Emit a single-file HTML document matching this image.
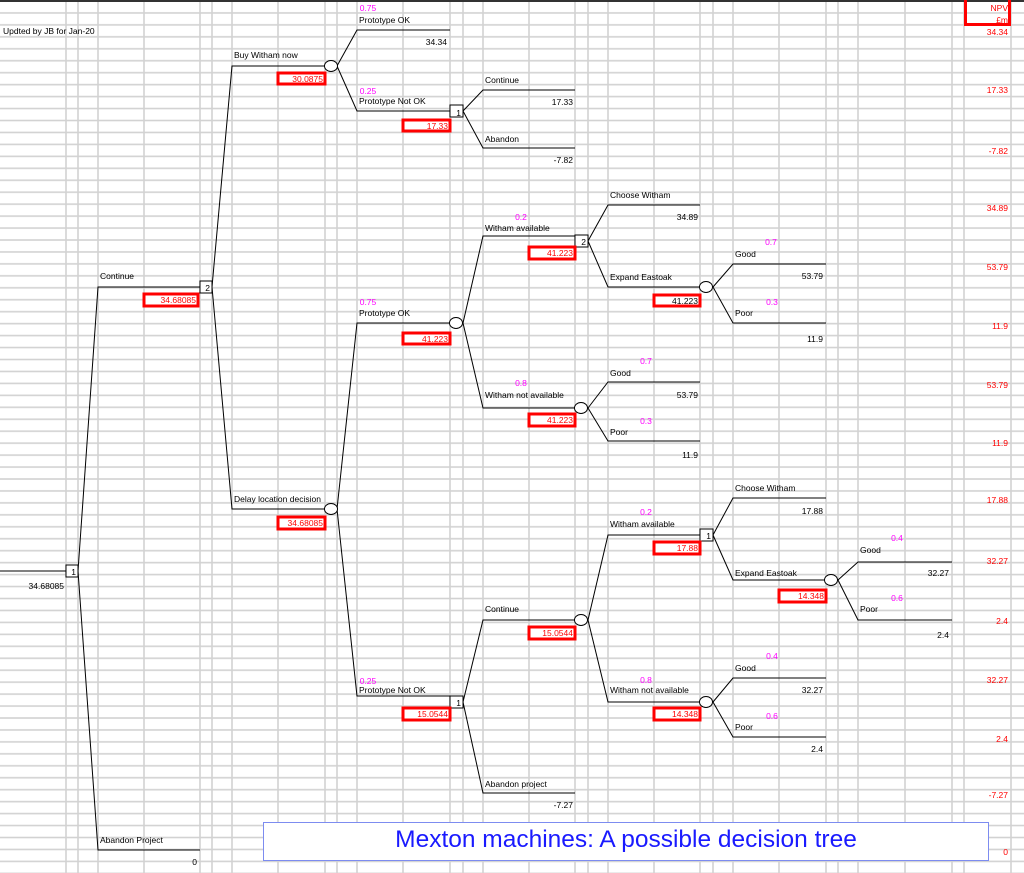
<!DOCTYPE html>
<html><head><meta charset="utf-8"><style>
html,body{margin:0;padding:0;background:#fff;width:1024px;height:873px;overflow:hidden}
svg{display:block}
text{font-family:"Liberation Sans",Arial,sans-serif;font-size:8.5px;fill:#000}
.m{fill:#ff00ff;text-anchor:middle}
.r{text-anchor:end}
.rd{fill:#ff0000;text-anchor:end}
.g line{stroke:#d2d2d2;stroke-width:1.6}
.t line,.t polyline{stroke:#000;stroke-width:1;fill:none}
.rb{fill:#fff;stroke:#ff0000;stroke-width:3}
.c{fill:#fff;stroke:#000;stroke-width:1}
</style></head><body>
<svg width="1024" height="873" viewBox="0 0 1024 873" xmlns="http://www.w3.org/2000/svg">
<defs><pattern id="rows" x="0" y="0" width="1024" height="11.95" patternUnits="userSpaceOnUse"><rect x="0" y="0.2" width="1024" height="1.6" fill="#d2d2d2"/></pattern></defs>
<rect x="0" y="0" width="1024" height="873" fill="url(#rows)"/>
<g class="g">
<line x1="66" y1="0" x2="66" y2="873"/><line x1="78" y1="0" x2="78" y2="873"/><line x1="98" y1="0" x2="98" y2="873"/><line x1="144" y1="0" x2="144" y2="873"/><line x1="200" y1="0" x2="200" y2="873"/><line x1="212" y1="0" x2="212" y2="873"/><line x1="232" y1="0" x2="232" y2="873"/><line x1="278" y1="0" x2="278" y2="873"/><line x1="325" y1="0" x2="325" y2="873"/><line x1="337" y1="0" x2="337" y2="873"/><line x1="357" y1="0" x2="357" y2="873"/><line x1="403" y1="0" x2="403" y2="873"/><line x1="450" y1="0" x2="450" y2="873"/><line x1="463" y1="0" x2="463" y2="873"/><line x1="483" y1="0" x2="483" y2="873"/><line x1="529" y1="0" x2="529" y2="873"/><line x1="575" y1="0" x2="575" y2="873"/><line x1="588" y1="0" x2="588" y2="873"/><line x1="608" y1="0" x2="608" y2="873"/><line x1="654" y1="0" x2="654" y2="873"/><line x1="700" y1="0" x2="700" y2="873"/><line x1="713" y1="0" x2="713" y2="873"/><line x1="733" y1="0" x2="733" y2="873"/><line x1="779" y1="0" x2="779" y2="873"/><line x1="826" y1="0" x2="826" y2="873"/><line x1="838" y1="0" x2="838" y2="873"/><line x1="858" y1="0" x2="858" y2="873"/><line x1="905" y1="0" x2="905" y2="873"/><line x1="952" y1="0" x2="952" y2="873"/><line x1="964" y1="0" x2="964" y2="873"/><line x1="1011" y1="0" x2="1011" y2="873"/>
</g>
<rect x="0" y="0" width="1024" height="2" fill="#333"/>
<text x="3" y="34">Updted by JB for Jan-20</text>

<g class="t">
<line x1="0" y1="571" x2="66" y2="571"/>
<polyline points="78,571 98,287 200,287"/>
<polyline points="78,571 98,850 200,850"/>
<polyline points="212,287 232,66 325,66"/>
<polyline points="212,287 232,509 325,509"/>
<polyline points="337,66 357,30 450,30"/>
<polyline points="337,66 357,111 450,111"/>
<polyline points="463,111 483,90 575,90"/>
<polyline points="463,111 483,148 575,148"/>
<polyline points="337,509 357,323 450,323"/>
<polyline points="337,509 357,696 450,696"/>
<polyline points="463,323 483,236 575,236"/>
<polyline points="463,323 483,408 575,408"/>
<polyline points="588,241 608,205 700,205"/>
<polyline points="588,241 608,287 700,287"/>
<polyline points="713,287 733,264 826,264"/>
<polyline points="713,287 733,323 826,323"/>
<polyline points="588,408 608,382 700,382"/>
<polyline points="588,408 608,441 700,441"/>
<polyline points="463,702 483,620 575,620"/>
<polyline points="463,702 483,793 575,793"/>
<polyline points="588,620 608,535 700,535"/>
<polyline points="588,620 608,702 700,702"/>
<polyline points="713,535 733,498 826,498"/>
<polyline points="713,535 733,580 826,580"/>
<polyline points="838,580 858,562 952,562"/>
<polyline points="838,580 858,620 952,620"/>
<polyline points="713,702 733,678 826,678"/>
<polyline points="713,702 733,737 826,737"/>
</g>

<g>
<rect x="66" y="565" width="12" height="12" fill="#fff" stroke="#000"/><text x="76" y="575" class="r">1</text>
<rect x="200" y="281" width="12" height="12" fill="#fff" stroke="#000"/><text x="210" y="291" class="r">2</text>
<rect x="450" y="105" width="13" height="12" fill="#fff" stroke="#000"/><text x="461" y="116" class="r">1</text>
<rect x="575" y="235" width="13" height="12" fill="#fff" stroke="#000"/><text x="586" y="245" class="r">2</text>
<rect x="450" y="696" width="13" height="12" fill="#fff" stroke="#000"/><text x="461" y="706" class="r">1</text>
<rect x="700" y="529" width="13" height="12" fill="#fff" stroke="#000"/><text x="711" y="539" class="r">1</text>
</g>
<ellipse class="c" cx="331" cy="66" rx="6.5" ry="5.5"/>
<ellipse class="c" cx="331" cy="509" rx="6.5" ry="5.5"/>
<ellipse class="c" cx="456" cy="323" rx="6.5" ry="5.5"/>
<ellipse class="c" cx="581" cy="408" rx="6.5" ry="5.5"/>
<ellipse class="c" cx="706" cy="287" rx="6.5" ry="5.5"/>
<ellipse class="c" cx="581" cy="620" rx="6.5" ry="5.5"/>
<ellipse class="c" cx="706" cy="702" rx="6.5" ry="5.5"/>
<ellipse class="c" cx="831" cy="580" rx="6.5" ry="5.5"/>

<rect class="rb" x="144" y="294" width="54" height="12"/><text class="rd" x="196" y="303">34.68085</text>
<rect class="rb" x="278" y="73" width="47" height="11"/><text class="rd" x="323" y="82">30.0875</text>
<rect class="rb" x="403" y="120" width="47" height="11"/><text class="rd" x="448" y="129">17.33</text>
<rect class="rb" x="278" y="517" width="47" height="12"/><text class="rd" x="323" y="526">34.68085</text>
<rect class="rb" x="403" y="333" width="47" height="11"/><text class="rd" x="448" y="342">41.223</text>
<rect class="rb" x="529" y="247" width="46" height="12"/><text class="rd" x="573" y="256">41.223</text>
<rect class="rb" x="654" y="295" width="46" height="11"/><text class="rd" x="698" y="304" style="fill:#000">41.223</text>
<rect class="rb" x="529" y="414" width="46" height="12"/><text class="rd" x="573" y="423">41.223</text>
<rect class="rb" x="403" y="708" width="47" height="12"/><text class="rd" x="448" y="717">15.0544</text>
<rect class="rb" x="529" y="627" width="46" height="12"/><text class="rd" x="573" y="636">15.0544</text>
<rect class="rb" x="654" y="542" width="46" height="12"/><text class="rd" x="698" y="551">17.88</text>
<rect class="rb" x="654" y="708" width="46" height="12"/><text class="rd" x="698" y="717">14.348</text>
<rect class="rb" x="779" y="590" width="47" height="12"/><text class="rd" x="824" y="599">14.348</text>
<path d="M965.5,0 V24.5 H1009.5 V0" fill="none" stroke="#ff0000" stroke-width="3"/>
<text class="rd" x="1008" y="11">NPV</text><text class="rd" x="1008" y="23">£m</text>

<text x="100" y="279">Continue</text>
<text x="100" y="843">Abandon Project</text>
<text x="197" y="865" class="r">0</text>
<text x="64" y="589" class="r">34.68085</text>
<text x="234" y="58">Buy Witham now</text>
<text x="234" y="502">Delay location decision</text>
<text x="359" y="23">Prototype OK</text><text class="m" x="368" y="11">0.75</text><text class="r" x="447" y="45">34.34</text>
<text x="359" y="104">Prototype Not OK</text><text class="m" x="368" y="94">0.25</text>
<text x="485" y="83">Continue</text><text class="r" x="573" y="105">17.33</text>
<text x="485" y="142">Abandon</text><text class="r" x="573" y="163">-7.82</text>
<text x="359" y="316">Prototype OK</text><text class="m" x="368" y="305">0.75</text>
<text x="359" y="693">Prototype Not OK</text><text class="m" x="368" y="684">0.25</text>
<text x="485" y="231">Witham available</text><text class="m" x="521" y="220">0.2</text>
<text x="485" y="398">Witham not available</text><text class="m" x="521" y="386">0.8</text>
<text x="610" y="198">Choose Witham</text><text class="r" x="698" y="220">34.89</text>
<text x="610" y="280">Expand Eastoak</text>
<text x="735" y="257">Good</text><text class="m" x="771" y="245">0.7</text><text class="r" x="823" y="279">53.79</text>
<text x="735" y="316">Poor</text><text class="m" x="772" y="305">0.3</text><text class="r" x="823" y="342">11.9</text>
<text x="610" y="376">Good</text><text class="m" x="646" y="364">0.7</text><text class="r" x="698" y="398">53.79</text>
<text x="610" y="435">Poor</text><text class="m" x="646" y="424">0.3</text><text class="r" x="698" y="458">11.9</text>
<text x="485" y="612">Continue</text>
<text x="485" y="787">Abandon project</text><text class="r" x="573" y="808">-7.27</text>
<text x="610" y="527">Witham available</text><text class="m" x="646" y="515">0.2</text>
<text x="610" y="693">Witham not available</text><text class="m" x="646" y="683">0.8</text>
<text x="735" y="491">Choose Witham</text><text class="r" x="823" y="514">17.88</text>
<text x="735" y="576">Expand Eastoak</text>
<text x="860" y="553">Good</text><text class="m" x="897" y="541">0.4</text><text class="r" x="949" y="576">32.27</text>
<text x="860" y="612">Poor</text><text class="m" x="897" y="601">0.6</text><text class="r" x="949" y="638">2.4</text>
<text x="735" y="671">Good</text><text class="m" x="772" y="659">0.4</text><text class="r" x="823" y="693">32.27</text>
<text x="735" y="730">Poor</text><text class="m" x="772" y="719">0.6</text><text class="r" x="823" y="752">2.4</text>

<text class="rd" x="1008" y="35">34.34</text>
<text class="rd" x="1008" y="93">17.33</text>
<text class="rd" x="1008" y="154">-7.82</text>
<text class="rd" x="1008" y="211">34.89</text>
<text class="rd" x="1008" y="270">53.79</text>
<text class="rd" x="1008" y="329">11.9</text>
<text class="rd" x="1008" y="388">53.79</text>
<text class="rd" x="1008" y="446">11.9</text>
<text class="rd" x="1008" y="503">17.88</text>
<text class="rd" x="1008" y="564">32.27</text>
<text class="rd" x="1008" y="624">2.4</text>
<text class="rd" x="1008" y="683">32.27</text>
<text class="rd" x="1008" y="742">2.4</text>
<text class="rd" x="1008" y="798">-7.27</text>
<text class="rd" x="1008" y="855">0</text>

<rect x="263.5" y="822.5" width="725" height="38" fill="#fff" stroke="#7d8cf0" stroke-width="1"/>
<text x="626" y="847" style="font-size:24.5px;fill:#1a1aff;text-anchor:middle">Mexton machines: A possible decision tree</text>
</svg>
</body></html>
